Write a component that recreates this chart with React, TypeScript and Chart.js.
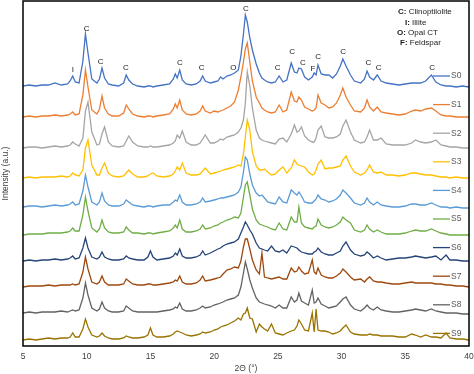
import React, { useEffect, useRef } from 'react';
import { Chart, registerables } from 'chart.js';

Chart.register(...registerables);

// 2θ sample positions (degrees)
const TWO_THETA = [
  5, 5.5, 6, 6.5, 7, 7.5, 8, 8.5, 8.7, 8.9,
  9.1, 9.4, 9.7, 9.9, 10.1, 10.4, 10.8, 11.0, 11.2, 11.4,
  11.7, 12.0, 12.5, 12.9, 13.1, 13.3, 13.6, 14.0, 14.5, 14.8,
  15.0, 15.2, 15.5, 16.0, 16.5, 16.8, 16.95, 17.1, 17.3, 17.5,
  17.8, 18.2, 18.6, 18.9, 19.1, 19.3, 19.7, 20.0, 20.3, 20.5,
  20.7, 21.0, 21.3, 21.6, 21.9, 22.1, 22.3, 22.45, 22.6, 22.8,
  23.0, 23.3, 23.55, 23.75, 23.95, 24.2, 24.5, 24.8, 25.1, 25.4,
  25.7, 26.05, 26.3, 26.5, 26.65, 26.85, 27.1, 27.4, 27.7, 27.85,
  28.0, 28.15, 28.4, 28.7, 29.0, 29.3, 29.6, 29.9, 30.1, 30.35,
  30.7, 31.0, 31.5, 31.8, 32.0, 32.2, 32.5, 32.8, 33.1, 33.5,
  34.0, 34.5, 35.0, 35.5, 35.8, 36.2, 36.6, 37.05, 37.4, 37.8,
  38.2, 38.5, 39.0, 39.5, 40,
];

// Intensities (a.u.) of each sample, relative to its own baseline
const S0 = [
  0, 1, 0, 1, 1, 3, 1, 2, 5, 10,
  4, 3, 25, 52, 33, 7, 3, 7, 18, 8,
  2, 1, 0, 3, 11, 6, 2, 0, -1, 0,
  0, -1, 0, 1, 2, 7, 12, 8, 16, 6,
  2, 1, 2, 5, 10, 5, 3, 4, 5, 9,
  7, 10, 11, 13, 16, 30, 52, 71, 64, 48,
  36, 22, 13, 8, 6, 4, 3, 4, 10, 4,
  6, 23, 14, 13, 18, 17, 9, 6, 9, 13,
  11, 21, 12, 11, 11, 8, 12, 20, 27, 20,
  11, 5, 3, 7, 15, 9, 6, 11, 5, 3,
  2, 1, 2, 3, 3, 3, 5, 11, 4, 1,
  0, 0, -1, 0, -1,
];
const S1 = [
  0, 1, 0, 1, 1, 2, 1, 2, 3, 5,
  2, 3, 22, 47, 30, 7, 3, 8, 21, 9,
  3, 1, 1, 4, 12, 8, 3, 1, 0, 1,
  1, 0, 1, 2, 3, 8, 13, 9, 17, 7,
  3, 2, 3, 6, 11, 6, 4, 6, 5, 6,
  7, 9, 11, 15, 27, 40, 55, 68, 74, 55,
  36, 20, 14, 9, 7, 5, 4, 5, 12, 5,
  7, 25, 16, 15, 20, 17, 10, 8, 6, 7,
  9, 22, 14, 12, 9, 10, 14, 22, 29, 20,
  12, 6, 5, 9, 17, 10, 6, 10, 5, 4,
  3, 2, 3, 6, 7, 6, 8, 9, 6, 2,
  1, 1, 0, 0, 0,
];
const S2 = [
  0, 1, 1, 0, 1, 2, 1, 2, 3, 6,
  4, 2, 10, 37, 46, 16, 3, 4, 14, 21,
  6, 2, 1, 2, 7, 12, 6, 2, 1, 1,
  2, 1, 1, 2, 3, 5, 7, 13, 10, 17,
  6, 3, 3, 5, 9, 13, 5, 5, 7, 9,
  8, 11, 12, 13, 16, 20, 28, 45, 76, 62,
  40, 18, 10, 8, 7, 6, 5, 4, 9, 10,
  6, 14, 23, 16, 17, 21, 12, 8, 6, 6,
  10, 18, 22, 11, 10, 10, 11, 14, 22, 28,
  16, 8, 5, 6, 11, 18, 8, 8, 10, 4,
  3, 3, 3, 5, 8, 6, 5, 6, 8, 3,
  2, 1, 1, 0, 0,
];
const S3 = [
  0, 1, 0, 1, 1, 1, 2, 1, 2, 5,
  3, 2, 8, 30, 38, 13, 3, 3, 10, 15,
  5, 2, 1, 2, 5, 8, 4, 1, 1, 2,
  4, 5, 2, 1, 2, 4, 7, 11, 8, 15,
  5, 3, 3, 4, 7, 10, 4, 5, 6, 7,
  8, 9, 10, 11, 13, 12, 24, 41, 58, 48,
  26, 12, 8, 8, 9, 6, 3, 4, 8, 11,
  5, 10, 18, 14, 13, 12, 11, 6, 3, 4,
  8, 14, 18, 9, 10, 10, 11, 12, 18, 22,
  12, 6, 3, 5, 8, 13, 6, 5, 6, 3,
  3, 2, 3, 5, 5, 4, 3, 3, 2, 1,
  1, 0, 1, 0, 0,
];
const S4 = [
  0, 1, 1, 0, 1, 2, 1, 2, 3, 5,
  2, 3, 16, 32, 20, 5, 2, 5, 14, 6,
  2, 1, 1, 3, 7, 5, 2, 1, 0, 1,
  1, 0, 1, 2, 2, 5, 7, 6, 12, 5,
  2, 2, 3, 5, 9, 5, 6, 7, 8, 9,
  9, 10, 11, 12, 15, 20, 35, 50, 47, 33,
  22, 14, 11, 12, 9, 5, 4, 3, 10, 5,
  4, 17, 14, 12, 15, 11, 5, 4, 4, 6,
  8, 12, 8, 7, 5, 6, 8, 12, 17, 14,
  9, 4, 2, 4, 9, 5, 2, 5, 2, 1,
  0, 0, 1, 3, 3, 2, 2, 4, 2, 0,
  0, -1, 0, -1, -1,
];
const S5 = [
  0, 1, 1, 1, 2, 2, 2, 3, 4, 7,
  4, 4, 20, 38, 24, 7, 3, 6, 15, 7,
  3, 2, 2, 3, 8, 5, 2, 2, 1, 2,
  2, 1, 2, 3, 4, 7, 10, 7, 15, 6,
  3, 3, 4, 6, 10, 6, 7, 9, 10, 12,
  13, 15, 16, 18, 17, 22, 38, 50, 53, 40,
  26, 15, 11, 10, 9, 8, 6, 5, 12, 6,
  5, 18, 13, 13, 28, 12, 8, 7, 6, 8,
  9, 16, 10, 8, 7, 8, 10, 13, 18, 15,
  12, 5, 3, 5, 10, 6, 3, 5, 3, 1,
  1, 1, 2, 4, 5, 4, 4, 6, 4, 2,
  1, 0, 0, 0, 0,
];
const S6 = [
  0, 1, 0, 1, 1, 2, 1, 2, 3, 5,
  2, 3, 13, 23, 13, 4, 2, 4, 9, 4,
  2, 1, 1, 2, 5, 3, 2, 1, 1, 4,
  10, 4, 1, 2, 3, 5, 8, 6, 12, 5,
  3, 3, 4, 6, 10, 6, 8, 10, 12, 13,
  15, 17, 18, 19, 22, 28, 34, 39, 36, 31,
  27, 18, 13, 12, 11, 10, 15, 10, 9, 11,
  8, 15, 14, 13, 11, 9, 8, 7, 7, 9,
  10, 13, 9, 7, 6, 6, 8, 10, 15, 19,
  11, 7, 5, 6, 9, 7, 3, 5, 3, 1,
  2, 3, 3, 4, 5, 4, 3, 4, 5, 1,
  6, 1, 1, 0, 0,
];
const S7 = [
  0, 1, 1, 1, 2, 1, 2, 2, 2, 3,
  2, 3, 15, 30, 18, 5, 3, 5, 11, 5,
  2, 2, 2, 3, 8, 6, 3, 2, 2, 3,
  3, 2, 2, 3, 4, 5, 7, 6, 11, 5,
  3, 3, 4, 7, 11, 6, 7, 8, 9, 10,
  13, 17, 18, 20, 19, 26, 40, 48, 48, 38,
  27, 17, 13, 34, 10, 9, 8, 9, 10, 8,
  8, 19, 15, 16, 20, 16, 13, 14, 27, 15,
  13, 19, 12, 10, 9, 9, 11, 14, 18, 15,
  10, 7, 8, 5, 8, 10, 6, 5, 5, 4,
  3, 3, 4, 5, 4, 4, 4, 4, 3, 3,
  2, 2, 1, 1, 0,
];
const S8 = [
  0, 1, 0, 1, 1, 1, 2, 1, 2, 3,
  2, 3, 15, 30, 18, 5, 2, 4, 11, 5,
  2, 1, 1, 2, 7, 5, 2, 1, 1, 1,
  1, 1, 1, 2, 3, 4, 6, 5, 10, 4,
  2, 2, 3, 5, 7, 5, 6, 8, 9, 10,
  11, 13, 14, 15, 18, 26, 40, 51, 44, 33,
  25, 15, 11, 10, 9, 8, 7, 5, 8, 5,
  5, 16, 11, 13, 20, 12, 10, 8, 23, 10,
  11, 15, 9, 7, 5, 6, 7, 11, 14, 16,
  8, 4, 2, 5, 8, 5, 3, 6, 3, 2,
  1, 1, 2, 3, 4, 3, 2, 4, 2, 1,
  0, 0, 0, -1, -1,
];
const S9 = [
  0, 1, 0, 1, 2, 1, 2, 2, 3, 7,
  3, 3, 11, 21, 13, 5, 3, 4, 7, 4,
  2, 1, 1, 2, 4, 3, 2, 2, 3, 5,
  12, 5, 3, 3, 4, 6, 8, 9, 8, 7,
  5, 4, 5, 6, 8, 7, 8, 10, 11, 13,
  14, 15, 17, 19, 22, 20, 26, 27, 32, 22,
  21, 8, 16, 13, 11, 9, 16, 7, 6, 5,
  7, 9, 10, 14, 20, 16, 10, 9, 27, 8,
  31, 10, 9, 9, 8, 6, 7, 9, 12, 15,
  8, 6, 5, 5, 5, 6, 5, 5, 4, 4,
  4, 3, 3, 6, 5, 3, 5, 3, 3, 2,
  7, 2, 1, 1, 0,
];

const SERIES_NAMES = ['S0', 'S1', 'S2', 'S3', 'S4', 'S5', 'S6', 'S7', 'S8', 'S9'];
const SERIES_VALUES = [S0, S1, S2, S3, S4, S5, S6, S7, S8, S9];
// vertical stacking offsets of each pattern (a.u.)
const OFFSETS = [260, 229, 198, 168, 139, 111, 85, 59, 33, 6];
const COLORS = ['#4472C4', '#ED7D31', '#A5A5A5', '#FFC000', '#5B9BD5', '#70AD47', '#264478', '#9E480E', '#636363', '#997300'];

const X_TICKS = [5, 10, 15, 20, 25, 30, 35, 40];

// Peak assignments
const PEAK_LABELS = ['I', 'C', 'C', 'C', 'C', 'C', 'O', 'C', 'C', 'C', 'C', 'F', 'C', 'C', 'C', 'C', 'C'];
const PEAK_X = [8.92, 10.0, 11.1, 13.08, 17.32, 19.02, 21.5, 22.5, 24.99, 26.13, 26.97, 27.76, 28.17, 30.13, 32.1, 32.91, 37.1];
const PEAK_Y = [276, 317, 284, 278, 283, 278, 278, 337, 278, 294, 283, 277, 289, 294, 283, 278, 278];

const PHASE_KEYS = ['C:', 'I:', 'O:', 'F:'];
const PHASE_NAMES = [' Clinoptilolite', ' Illite', ' Opal CT', ' Feldspar'];

const FONT = '"Liberation Sans", Arial, Helvetica, sans-serif';

const overlay = {
  id: 'overlay',
  afterDatasetsDraw(chart: any) {
    const { ctx, chartArea: a, scales } = chart;
    const xs = scales.x;
    const ys = scales.y;
    ctx.save();
    // frame
    ctx.strokeStyle = '#000';
    ctx.lineWidth = 1.5;
    ctx.strokeRect(a.left, a.top, a.right - a.left, a.bottom - a.top);

    // peak labels
    ctx.font = `8px ${FONT}`;
    ctx.fillStyle = '#1a1a1a';
    ctx.textAlign = 'center';
    ctx.textBaseline = 'middle';
    PEAK_LABELS.forEach((t, i) => {
      ctx.fillText(t, xs.getPixelForValue(PEAK_X[i]), ys.getPixelForValue(PEAK_Y[i]));
    });

    // phase key
    ctx.textAlign = 'left';
    const kx = [a.right - 71, a.right - 64, a.right - 72, a.right - 69];
    PHASE_KEYS.forEach((k, i) => {
      const yy = a.top + 11 + i * 10.4;
      ctx.font = `bold 8px ${FONT}`;
      ctx.fillStyle = '#1a1a1a';
      ctx.fillText(k, kx[i], yy);
      const w = ctx.measureText(k).width;
      ctx.font = `8px ${FONT}`;
      ctx.fillText(PHASE_NAMES[i], kx[i] + w, yy);
    });

    // series legend
    ctx.font = `8.5px ${FONT}`;
    SERIES_NAMES.forEach((n, i) => {
      const yy = a.top + 75 + i * 28.6;
      ctx.strokeStyle = COLORS[i];
      ctx.lineWidth = 1.3;
      ctx.beginPath();
      ctx.moveTo(a.right - 36, yy);
      ctx.lineTo(a.right - 19, yy);
      ctx.stroke();
      ctx.fillStyle = '#595959';
      ctx.fillText(n, a.right - 18, yy);
    });
    ctx.restore();
  },
};

export default function App() {
  const ref = useRef<HTMLCanvasElement | null>(null);

  useEffect(() => {
    document.body.style.margin = '0';
    const canvas = ref.current;
    if (!canvas) return;
    const datasets = SERIES_VALUES.map((vals, i) => ({
      label: SERIES_NAMES[i],
      data: TWO_THETA.map((x, j) => ({ x, y: vals[j] + OFFSETS[i] })),
      borderColor: COLORS[i],
      backgroundColor: COLORS[i],
      borderWidth: 1.3,
      pointRadius: 0,
      tension: 0,
      fill: false,
    }));
    const chart = new Chart(canvas, {
      type: 'line',
      data: { datasets },
      plugins: [overlay],
      options: {
        animation: false,
        responsive: false,
        devicePixelRatio: 1,
        layout: { padding: { top: 1, right: 5, left: 0, bottom: 0 } },
        plugins: { legend: { display: false }, tooltip: { enabled: false } },
        scales: {
          x: {
            type: 'linear',
            min: 5,
            max: 40,
            afterBuildTicks: (s: any) => {
              s.ticks = X_TICKS.map((v) => ({ value: v }));
            },
            afterFit: (s: any) => {
              s.height = 28;
              s.paddingLeft = 0;
              s.paddingRight = 0;
            },
            grid: { display: false, drawTicks: false },
            border: { display: false },
            ticks: {
              padding: 6,
              color: '#404040',
              font: { family: FONT, size: 8.5 },
              maxRotation: 0,
            },
            title: {
              display: true,
              text: '2Θ (°)',
              color: '#404040',
              font: { family: FONT, size: 8.5 },
              padding: { top: 0, bottom: 0 },
            },
          },
          y: {
            type: 'linear',
            min: 0,
            max: 345,
            afterFit: (s: any) => {
              s.width = 23;
              s.paddingTop = 0;
              s.paddingBottom = 0;
            },
            grid: { display: false, drawTicks: false },
            border: { display: false },
            ticks: { display: false },
            title: {
              display: true,
              text: 'Intensity (a.u.)',
              color: '#404040',
              font: { family: FONT, size: 8.5 },
              padding: { top: 1, bottom: 0 },
            },
          },
        },
      },
    });
    return () => chart.destroy();
  }, []);

  return (
    <div style={{ width: 474, height: 374 }}>
      <canvas ref={ref} width={474} height={374} style={{ display: 'block' }} />
    </div>
  );
}
